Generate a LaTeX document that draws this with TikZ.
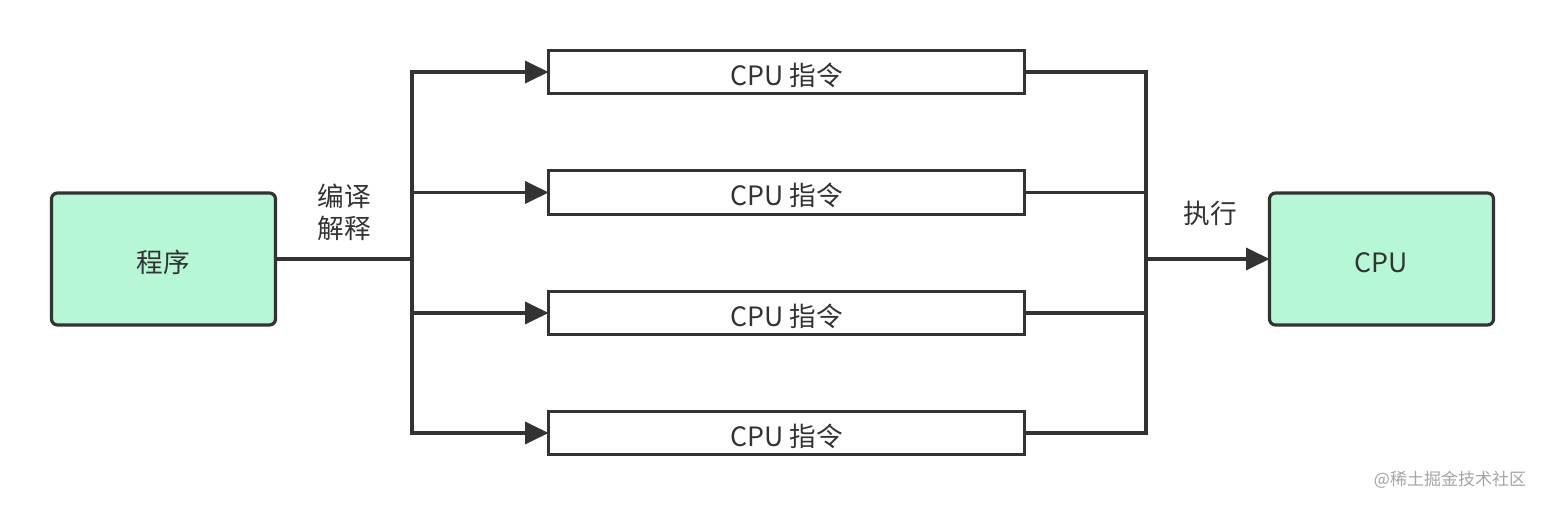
\documentclass[tikz,border=0pt]{standalone}
\usepackage{fontspec}
\setmainfont{Noto Sans CJK SC}
\usetikzlibrary{arrows.meta}
\definecolor{boxgreen}{RGB}{182,248,214}
\definecolor{linegray}{RGB}{51,51,51}
\definecolor{markgray}{RGB}{165,165,165}

\begin{document}
\begin{tikzpicture}[x=0.75pt,y=-0.75pt,
	every node/.style={text=linegray,font=\fontsize{20}{24}\selectfont},
	endbox/.style={shape=rectangle,rounded corners=4.5pt,draw=linegray,fill=boxgreen,line width=2.4pt,minimum width=168pt,minimum height=99pt,outer sep=0pt,text height=20pt,text depth=0pt},
	insbox/.style={shape=rectangle,draw=linegray,line width=2.4pt,minimum width=357pt,minimum height=32.5pt,outer sep=0pt,text height=20pt,text depth=0pt},
	wire/.style={draw=linegray,line width=2.4pt},
	arrow/.style={wire,-{Triangle[length=17.5pt,width=16.5pt]}}]

	\useasboundingbox (0,0) rectangle (1546,506);

	\node[endbox] (prog) at (163.5, 259)   {程序};
	\node[endbox] (cpu)  at (1381.5, 259)  {CPU};

	\node[insbox] (ins1) at (786.5, 72)    {CPU 指令};
	\node[insbox] (ins2) at (786.5, 192.5) {CPU 指令};
	\node[insbox] (ins3) at (786.5, 313)   {CPU 指令};
	\node[insbox] (ins4) at (786.5, 433)   {CPU 指令};

	\coordinate (split) at (412, 259);
	\coordinate (join)  at (1146, 259);

	\path[wire] (prog) -- (split);
	\path[arrow] (split) |- (ins1);
	\path[arrow] (split) |- (ins2);
	\path[arrow] (split) |- (ins3);
	\path[arrow] (split) |- (ins4);

	\path[wire] (ins1) -| (join);
	\path[wire] (ins2) -| (join);
	\path[wire] (ins3) -| (join);
	\path[wire] (ins4) -| (join);
	\path[arrow] (join) -- (cpu);

	\node[align=center] (compile) at (344, 212) {编译\\解释};
	\node (exec) at (1210, 213) {执行};
	\node[text=markgray,font=\fontsize{12.75}{15}\selectfont] (mark) at (1450, 480) {@稀土掘金技术社区};

\end{tikzpicture}
\end{document}
